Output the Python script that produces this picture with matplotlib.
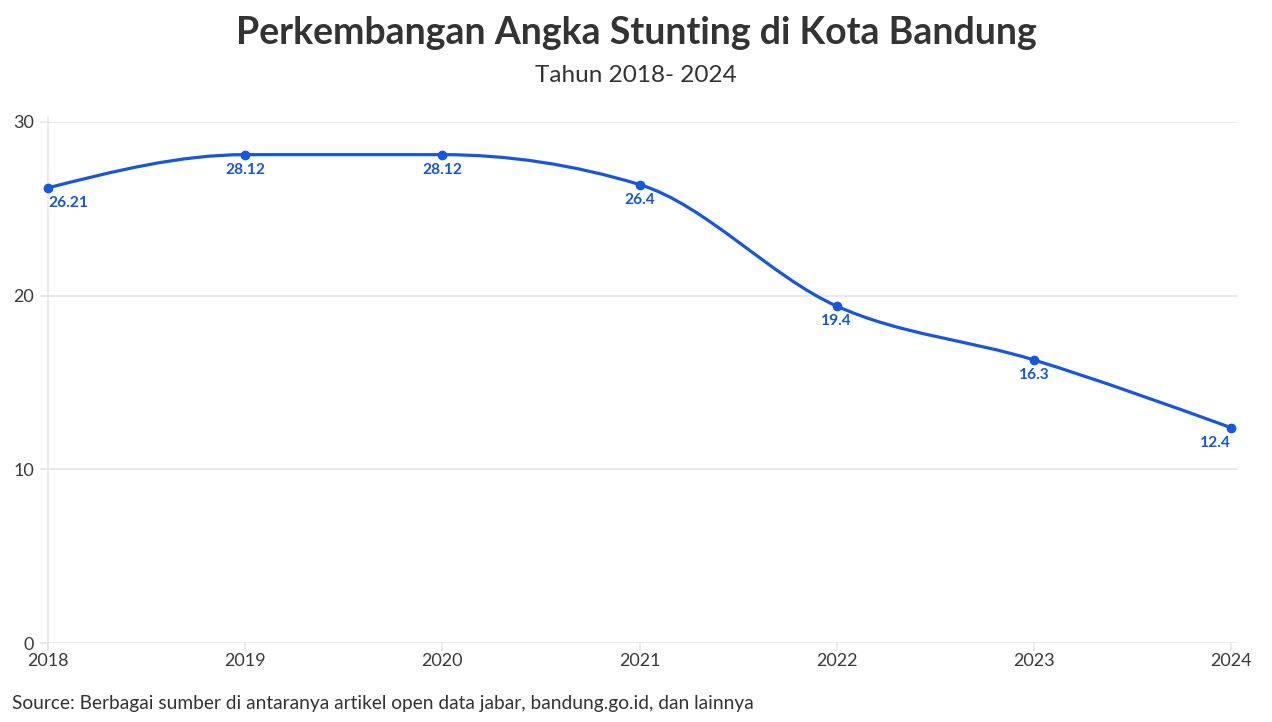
import numpy as np
import matplotlib
matplotlib.use('Agg')
import matplotlib.pyplot as plt
from matplotlib.path import Path
from matplotlib.patches import PathPatch

years = [2018, 2019, 2020, 2021, 2022, 2023, 2024]
stunting = [26.21, 28.12, 28.12, 26.4, 19.4, 16.3, 12.4]
labels = ['26.21', '28.12', '28.12', '26.4', '19.4', '16.3', '12.4']

title = 'Perkembangan Angka Stunting di Kota Bandung'
subtitle = 'Tahun 2018- 2024'
source = 'Source: Berbagai sumber di antaranya artikel open data jabar, bandung.go.id, dan lainnya'

blue = '#1656e0'
grid_c = '#e6e6e6'
text_c = '#3a3a3a'

plt.rcParams['font.family'] = ['Lato', 'DejaVu Sans']


def monotone_path(x, y):
    # monotone cubic (like d3 curveMonotoneX) as bezier segments
    x = np.asarray(x, float)
    y = np.asarray(y, float)
    n = len(x)
    h = np.diff(x)
    s = np.diff(y) / h
    t = np.zeros(n)
    for i in range(1, n - 1):
        p = (s[i - 1] * h[i] + s[i] * h[i - 1]) / (h[i - 1] + h[i])
        t[i] = (np.sign(s[i - 1]) + np.sign(s[i])) * min(abs(s[i - 1]), abs(s[i]), 0.5 * abs(p))
    t[0] = (3 * s[0] - t[1]) / 2
    t[-1] = (3 * s[-1] - t[-2]) / 2
    verts = [(x[0], y[0])]
    codes = [Path.MOVETO]
    for i in range(n - 1):
        dx = h[i] / 3
        verts += [(x[i] + dx, y[i] + dx * t[i]), (x[i + 1] - dx, y[i + 1] - dx * t[i + 1]), (x[i + 1], y[i + 1])]
        codes += [Path.CURVE4] * 3
    return Path(verts, codes)


fig = plt.figure(figsize=(12.72, 7.22), dpi=100)
ax = fig.add_axes([48 / 1272, 1 - 643 / 722, (1237 - 48) / 1272, (643 - 122) / 722])
ax.set_xlim(2018, 2024 + 6 / 197.2)
ax.set_ylim(0, 30)

ax.add_patch(PathPatch(monotone_path(years, stunting), fill=False, edgecolor=blue, lw=2.3, zorder=3,
                       clip_on=False, capstyle='round'))
ax.plot(years, stunting, 'o', color=blue, ms=6, zorder=4, clip_on=False)

for i, (xv, yv, lab) in enumerate(zip(years, stunting, labels)):
    ha = 'center'
    if i == 0:
        ha = 'left'
    elif i == len(years) - 1:
        ha = 'right'
    ax.annotate(lab, (xv, yv), xytext=(0, -6), textcoords='offset points', ha=ha, va='top',
                color=blue, fontsize=11.2, fontweight='bold')

ax.set_xticks(years)
ax.set_yticks([0, 10, 20, 30])
ax.grid(axis='y', color=grid_c, lw=1.2)
ax.set_axisbelow(True)
for sp in ['top', 'right', 'bottom']:
    ax.spines[sp].set_visible(False)
ax.spines['left'].set_color(grid_c)
ax.spines['left'].set_linewidth(1.2)
ax.spines['left'].set_bounds(-0.4, 30.3)
ax.tick_params(axis='both', colors=grid_c, labelcolor=text_c, labelsize=13, width=1.2, length=6)
ax.tick_params(axis='y', pad=4)
ax.tick_params(axis='x', pad=1)

fig.text(0.5, 1 - 33 / 722, title, ha='center', va='center', fontsize=27, fontweight='bold', color='#333333')
fig.text(0.5, 1 - 75 / 722, subtitle, ha='center', va='center', fontsize=17.5, color='#333333')
fig.text(12 / 1272, 1 - 704 / 722, source, ha='left', va='center', fontsize=13.8, color='#333333')

fig.savefig('out.png', dpi=100)
